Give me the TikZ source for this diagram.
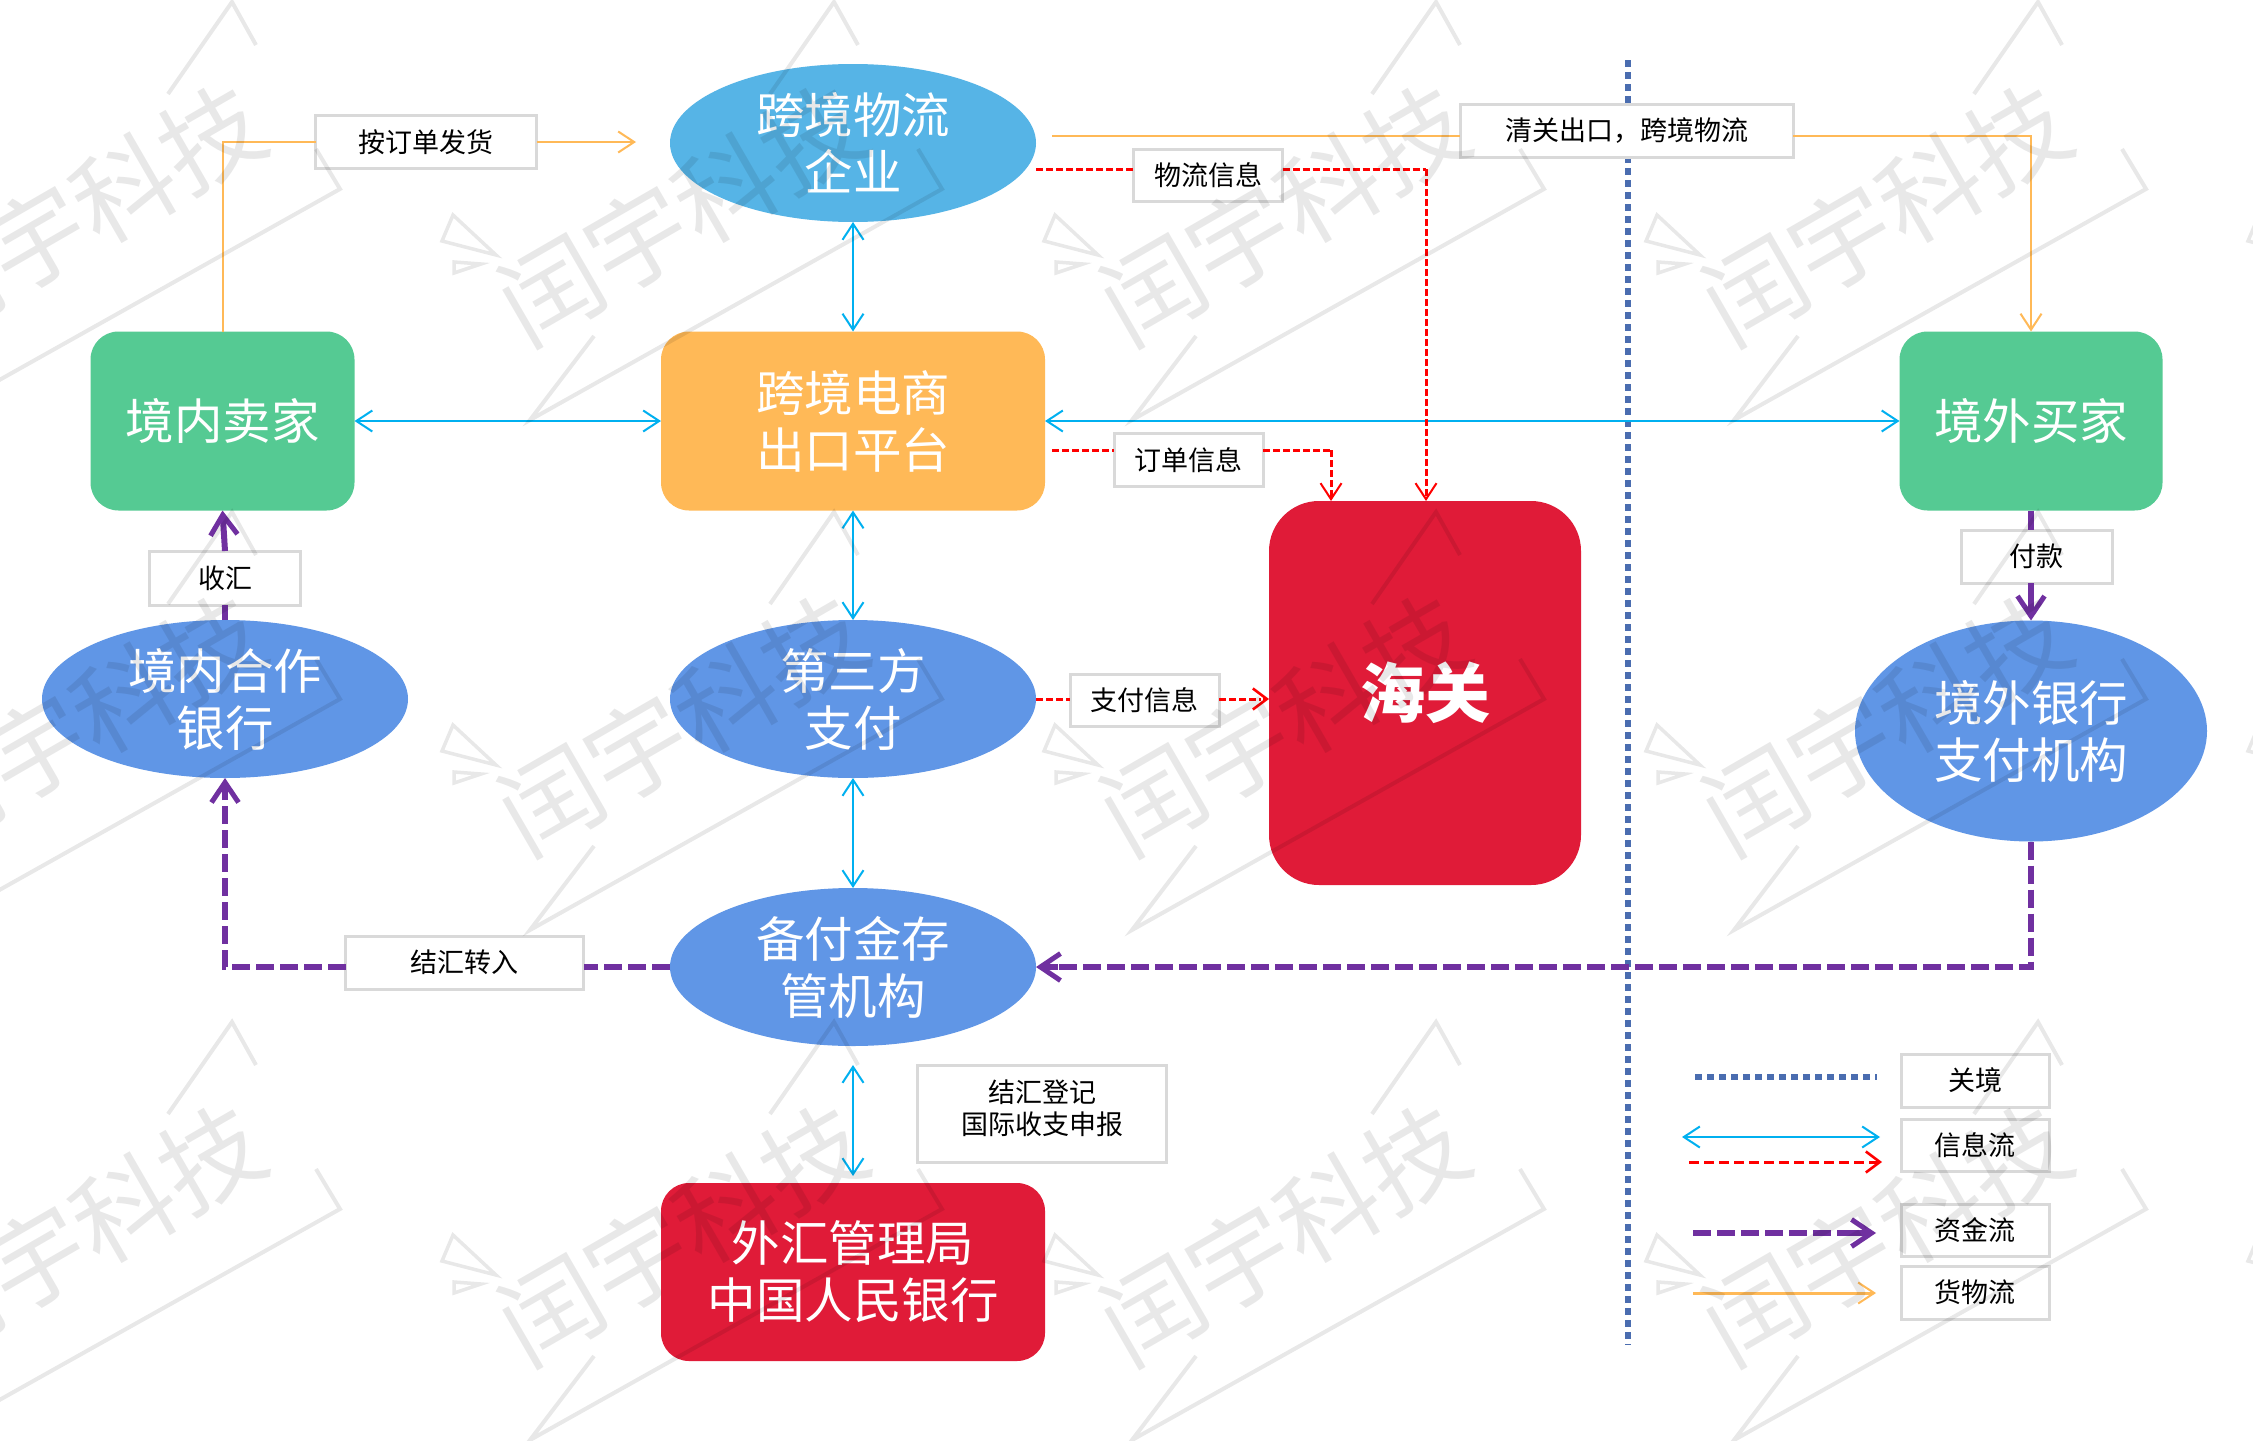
\documentclass[tikz,border=0pt]{standalone}
\usepackage{fontspec}
\setmainfont{Noto Sans CJK SC}
\usetikzlibrary{arrows.meta,shapes.geometric,calc}
\definecolor{cSky}{HTML}{56B4E6}
\definecolor{cBlue}{HTML}{6096E6}
\definecolor{cOrange}{HTML}{FFB957}
\definecolor{cGreen}{HTML}{55CA93}
\definecolor{cRed}{HTML}{E01B38}
\definecolor{cPurple}{HTML}{7030A0}
\definecolor{cInfo}{HTML}{00B0F0}
\definecolor{cDot}{HTML}{4A6DB0}
\definecolor{cBorder}{HTML}{D9D9D9}
\newcommand{\bigtxt}{\fontsize{48.5}{57}\selectfont}
\newcommand{\smalltxt}{\fontsize{27}{32}\selectfont}
\tikzset{
  x=1pt,y=-1pt,
  every node/.style={inner sep=0pt,outer sep=0pt,align=center},
  ell/.style={ellipse,minimum width=366pt,minimum height=158pt,text=white,font=\bigtxt},
  box/.style={rounded corners=28pt,text=white,font=\bigtxt},
  lbl/.style={draw=cBorder,line width=3pt,fill=white,text=black,font=\smalltxt},
  info/.style={draw=cInfo,line width=2pt,{Straight Barb[length=16pt,width=21pt,line width=2pt]}-{Straight Barb[length=16pt,width=21pt,line width=2pt]}},
  infored/.style={draw=red,line width=3pt,dash pattern=on 7pt off 3pt},
  redtip/.style={draw=red,line width=3pt,dash pattern=on 7pt off 3pt,-{Straight Barb[length=16pt,width=21pt,line width=2pt]}},
  redhead/.style={draw=red,line width=2.6pt,-{Straight Barb[length=14pt,width=21pt,line width=2.6pt]}},
  goods/.style={draw=cOrange,line width=2pt},
  goodstip/.style={goods,-{Straight Barb[length=16pt,width=21pt,line width=2pt]}},
  fund/.style={draw=cPurple,line width=6pt},
  fundtip/.style={fund,-{Straight Barb[length=20pt,width=27pt,line width=5pt]}},
  funddash/.style={fund,dash pattern=on 18pt off 6pt},
  wmline/.style={draw=black,draw opacity=.09,line width=4pt,line join=miter},
}
\begin{document}
\begin{tikzpicture}
\useasboundingbox (0,0) rectangle (2253,1440);
\fill[white] (0,0) rectangle (2253,1440);
% border line
\coordinate (dotTop) at (1628,60);
\coordinate (dotBot) at (1628,1345);
\draw[cDot,line width=6pt,dash pattern=on 7pt off 5pt] (dotTop) -- (dotBot);

% main nodes
\node[ell,fill=cSky] (logi) at (853,143) {跨境物流\\企业};
\node[box,fill=cOrange,minimum width=384pt,minimum height=179pt] (plat) at (853,421) {跨境电商\\出口平台};
\node[box,fill=cGreen,minimum width=264pt,minimum height=179pt] (seller) at (222.5,421) {境内卖家};
\node[box,fill=cGreen,minimum width=263pt,minimum height=179pt] (buyer) at (2031,421) {境外买家};
\node[ell,fill=cBlue] (dombank) at (225,699) {境内合作\\银行};
\node[ell,fill=cBlue] (third) at (853,699) {第三方\\支付};
\node[ell,fill=cBlue] (reserve) at (853,967) {备付金存\\管机构};
\node[ell,fill=cBlue,minimum width=352pt,minimum height=221pt] (osbank) at (2031,731) {境外银行\\支付机构};
\node[box,rounded corners=50pt,fill=cRed,minimum width=312pt,minimum height=384pt,font=\fontsize{65}{70}\selectfont\bfseries] (customs) at (1425,693) {海关};
\node[box,fill=cRed,minimum width=384pt,minimum height=178pt] (forex) at (853,1272) {外汇管理局\\中国人民银行};

% labels
\node[lbl,minimum width=221pt,minimum height=53pt] (lOrder) at (426,142) {按订单发货};
\node[lbl,minimum width=333pt,minimum height=53pt] (lClear) at (1626.5,130.5) {清关出口，跨境物流};
\node[lbl,minimum width=149pt,minimum height=52pt] (lLogi) at (1208,175) {\raisebox{-1.5pt}{物流信息}};
\node[lbl,minimum width=149pt,minimum height=53pt] (lOrdInfo) at (1188.5,460) {\raisebox{-3pt}{订单信息}};
\node[lbl,minimum width=149pt,minimum height=52pt] (lPay) at (1144.5,700) {支付信息};
\node[lbl,minimum width=151pt,minimum height=54pt] (lRecv) at (225,578) {\raisebox{-1.5pt}{收汇}};
\node[lbl,minimum width=151pt,minimum height=53pt] (lFk) at (2036.5,556.5) {\raisebox{-1.5pt}{付款}};
\node[lbl,minimum width=238pt,minimum height=53pt] (lSettle) at (464.5,962.5) {\raisebox{-1.5pt}{结汇转入}};
\node[lbl,minimum width=249pt,minimum height=97pt,text depth=13pt] (lReg) at (1042,1113.5) {结汇登记\\国际收支申报};

% free ends
\coordinate (oArrow) at (636,142);
\coordinate (oStart) at (1052,136);
\coordinate (oCorner) at (2031,136);
\coordinate (rStart) at (1036,169);
\coordinate (rTurn) at (1426,169);
\coordinate (rStartB) at (1052,450);
\coordinate (rTurnB) at (1331,450);
\coordinate (regTop) at (853,1065);
\coordinate (regBot) at (853,1176);

% goods flow
\draw[goods] (seller.north) |- (lOrder.west);
\draw[goodstip] (lOrder.east) -- (oArrow);
\draw[goods] (oStart) -- (oStart -| lClear.west);
\draw[goodstip] (lClear.east |- oStart) -- (oCorner) -- (buyer.north);

% info flow
\draw[info] (logi.south) -- (plat.north);
\draw[info] (plat.south) -- (third.north);
\draw[info] (third.south) -- (reserve.north);
\draw[info] (regTop) -- (regBot);
\draw[info] (seller.east) -- (plat.west);
\draw[info] (plat.east) -- (buyer.west);

% info flow, red
\draw[infored] (rStart) -- (rStart -| lLogi.west);
\draw[infored] (lLogi.east |- rStart) -- (rTurn);
\draw[redtip] (rTurn) -- (rTurn |- customs.north);
\draw[infored] (rStartB) -- (rStartB -| lOrdInfo.west);
\draw[infored] (lOrdInfo.east |- rStartB) -- (rTurnB);
\draw[redtip] (rTurnB) -- (rTurnB |- customs.north);
\draw[infored] (third.east) -- (third.east -| lPay.west);
\draw[infored] (third.east -| lPay.east) -- ($(third.east -| customs.west)+(-8,0)$);
\draw[redhead] ($(third.east -| customs.west)+(-6,0)$) -- (third.east -| customs.west);

% fund flow
\draw[fund] (dombank.north) -- (lRecv.south);
\draw[fundtip] (lRecv.north) -- (seller.south);
\draw[fund] (buyer.south) -- (buyer.south |- lFk.north);
\draw[fundtip] (buyer.south |- lFk.south) -- (osbank.north);
\draw[funddash] (reserve.west) -- (reserve.west -| lSettle.east);
\draw[funddash] (reserve.west -| lSettle.west) -| ($(dombank.south)+(0,14)$);
\draw[fundtip] ($(dombank.south)+(0,22)$) -- (dombank.south);
\draw[funddash] (osbank.south) |- ($(reserve.east)+(14,0)$);
\draw[fundtip] ($(reserve.east)+(22,0)$) -- (reserve.east);

% legend
\node[lbl,minimum width=148pt,minimum height=53pt] (kDot) at (1975,1080.5) {关境};
\node[lbl,minimum width=148pt,minimum height=52pt] (kInfo) at (1975,1145) {信息流};
\node[lbl,minimum width=148pt,minimum height=52pt] (kFund) at (1975,1230) {资金流};
\node[lbl,minimum width=148pt,minimum height=53pt] (kGoods) at (1975,1292.5) {货物流};
\coordinate (a1) at (1695,1077); \coordinate (b1) at (1877,1077);
\coordinate (a2) at (1682,1137); \coordinate (b2) at (1880,1137);
\coordinate (a3) at (1689,1162); \coordinate (b3) at (1882,1162);
\coordinate (a4) at (1693,1233); \coordinate (b4) at (1876,1233);
\coordinate (a5) at (1693,1293); \coordinate (b5) at (1876,1293);
\draw[cDot,line width=6pt,dash pattern=on 7pt off 5pt] (a1) -- (b1);
\draw[info] (a2) -- (b2);
\draw[draw=red,line width=3pt,dash pattern=on 10pt off 5pt] (a3) -- ($(b3)+(-4,0)$);
\draw[redhead] ($(b3)+(-6,0)$) -- (b3);
\draw[funddash] (a4) -- ($(b4)+(-12,0)$);
\draw[fundtip] ($(b4)+(-22,0)$) -- (b4);
\draw[goodstip,line width=3pt] (a5) -- (b5);

% watermark
\begin{scope}
\clip (0,0) rectangle (2253,1440);
\foreach \r/\py in {0/2,1/512,2/1022}{
 \foreach \c/\px in {0/232,1/834,2/1436,3/2038,4/2640}{
  \begin{scope}[shift={(\px,\py)}]
   \draw[wmline] (-64,92) -- (0,0) -- (24,43);
   \draw[wmline] (84,147) -- (108,187) -- (-304,418) -- (-240,334);
   \draw[wmline,line width=3.5pt] (-381,213) -- (-338,253) -- (-392,239) -- cycle;
   \draw[wmline,line width=3.5pt] (-380,260) -- (-353,262) -- (-380,271) -- cycle;
   \node[text=black,text opacity=.09,rotate=30,font=\fontsize{101}{101}\selectfont] (wm-\c-\r) at (-152,212) {闰宇科技};
  \end{scope}
 }
}
\end{scope}
\end{tikzpicture}
\end{document}
